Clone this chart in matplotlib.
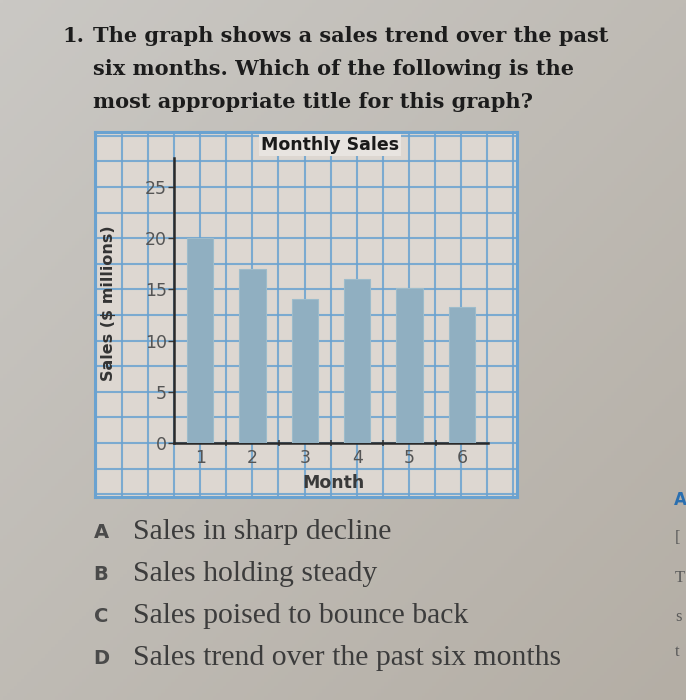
import numpy as np
import matplotlib
matplotlib.use("Agg")
import matplotlib.pyplot as plt

# ---- data ----
months = [1, 2, 3, 4, 5, 6]
month_labels = ["1", "2", "3", "4", "5", "6"]
sales = [20, 17, 14.1, 16, 15.1, 13.3]
y_ticks = [0, 5, 10, 15, 20, 25]

question_lines = ["The graph shows a sales trend over the past",
                  "six months. Which of the following is the",
                  "most appropriate title for this graph?"]
choice_letters = ["A", "B", "C", "D"]
choice_texts = ["Sales in sharp decline", "Sales holding steady",
                "Sales poised to bounce back",
                "Sales trend over the past six months"]

W, H = 686, 700
fig = plt.figure(figsize=(W / 100, H / 100), dpi=100)

# page background (photo) gradient
bg = fig.add_axes([0, 0, 1, 1], zorder=-10)
gx = np.linspace(0, 1, 200)
gy = np.linspace(0, 1, 200)
GX, GY = np.meshgrid(gx, gy)
shade = 0.5 * GX + 0.5 * GY
c0 = np.array([202, 200, 196]) / 255
c1 = np.array([180, 174, 165]) / 255
img = c0[None, None, :] * (1 - shade[..., None]) + c1[None, None, :] * shade[..., None]
bg.imshow(img, extent=[0, W, H, 0], aspect="auto")
bg.set_xlim(0, W)
bg.set_ylim(H, 0)
bg.axis("off")

def fx(px):
    return px / W

def fy(py):
    return 1 - py / H

# graph-paper box
bx0, by0, bx1, by1 = 95, 132, 517, 497
gax = fig.add_axes([fx(bx0), fy(by1), fx(bx1) - fx(bx0), fy(by0) - fy(by1)], zorder=-5)
gax.set_facecolor("#ddd7d1")
gax.set_xlim(bx0, bx1)
gax.set_ylim(by1, by0)
gcol = "#6aa2d0"
step_x, step_y = 26.1, 25.6
ax0_px, ay0_px = 174, 443
for k in range(-4, 16):
    x = ax0_px + k * step_x
    if bx0 < x < bx1:
        gax.axvline(x, color=gcol, lw=1.5, alpha=0.85)
for k in range(-3, 14):
    y = ay0_px - k * step_y
    if by0 < y < by1:
        gax.axhline(y, color=gcol, lw=1.5, alpha=0.85)
for s in gax.spines.values():
    s.set_color(gcol)
    s.set_linewidth(2.2)
gax.set_xticks([])
gax.set_yticks([])

# main chart axes
axL, axB, axR, axT = 174, 443, 488, 158
ax = fig.add_axes([fx(axL), fy(axB), fx(axR) - fx(axL), fy(axT) - fy(axB)])
ax.patch.set_alpha(0)
ax.bar(months, sales, width=0.5, color="#90afc1", edgecolor="#9dbccb", lw=0.8, zorder=3)
ax.set_xlim(0.5, 6.5)
ax.set_ylim(0, 27.83)
ax.spines["top"].set_visible(False)
ax.spines["right"].set_visible(False)
ax.spines["left"].set_color("#2a2a2a")
ax.spines["bottom"].set_color("#2a2a2a")
ax.spines["left"].set_linewidth(1.8)
ax.spines["bottom"].set_linewidth(1.8)
ax.set_yticks(y_ticks)
ax.set_yticklabels([str(v) for v in y_ticks], fontsize=12.5, color="#555555",
                   family="DejaVu Sans Condensed")
ax.tick_params(axis="y", length=4, width=1.0, color="#3a3a3a", pad=1)
ax.set_xticks(months)
ax.set_xticklabels(month_labels, fontsize=12.5, color="#555555", family="DejaVu Sans Condensed")
ax.tick_params(axis="x", length=0, pad=4)
ax.set_xticks([1.5, 2.5, 3.5, 4.5, 5.5], minor=True)
ax.tick_params(axis="x", which="minor", length=4, width=1.2, color="#3a3a3a", direction="inout")

fig.text(fx(108), fy(303), "Sales ($ millions)", rotation=90, ha="center", va="center",
         fontsize=11.5, fontweight="bold", color="#333333", family="DejaVu Sans Condensed")
fig.text(fx(333), fy(483), "Month", ha="center", va="center",
         fontsize=12.5, fontweight="bold", color="#3a3a3a", family="DejaVu Sans Condensed")
fig.text(fx(330), fy(145), "Monthly Sales", ha="center", va="center",
         fontsize=12.5, fontweight="bold", color="#1a1a1a", family="DejaVu Sans Condensed",
         bbox=dict(boxstyle="square,pad=0.1", fc="#e8e4e0", ec="none"))

# question text
fig.text(fx(62), fy(36), "1.", ha="left", va="center", fontsize=15,
         fontweight="bold", color="#1c1c1c", family="DejaVu Serif")
for i, line in enumerate(question_lines):
    fig.text(fx(93), fy(36 + 33 * i), line, ha="left", va="center", fontsize=15,
             fontweight="bold", color="#1c1c1c", family="DejaVu Serif")

# answer choices
for i, (l, t) in enumerate(zip(choice_letters, choice_texts)):
    y = 532 + 42 * i
    fig.text(fx(101), fy(y), l, ha="center", va="center", fontsize=14,
             fontweight="bold", color="#4a4a4a", family="DejaVu Sans")
    fig.text(fx(133), fy(y), t, ha="left", va="center", fontsize=21.4,
             color="#3c3c3c", family="Liberation Serif")

# fragments of the neighbouring column at the right edge
fig.text(fx(674), fy(500), "A", ha="left", va="center", fontsize=12,
         fontweight="bold", color="#2a6fb0", family="DejaVu Sans")
for y, ch in zip([538, 578, 617, 652], ["[", "T", "s", "t"]):
    fig.text(fx(675), fy(y), ch, ha="left", va="center", fontsize=12,
             color="#5a5a5a", family="Liberation Serif")

fig.savefig("out.png", dpi=100)
